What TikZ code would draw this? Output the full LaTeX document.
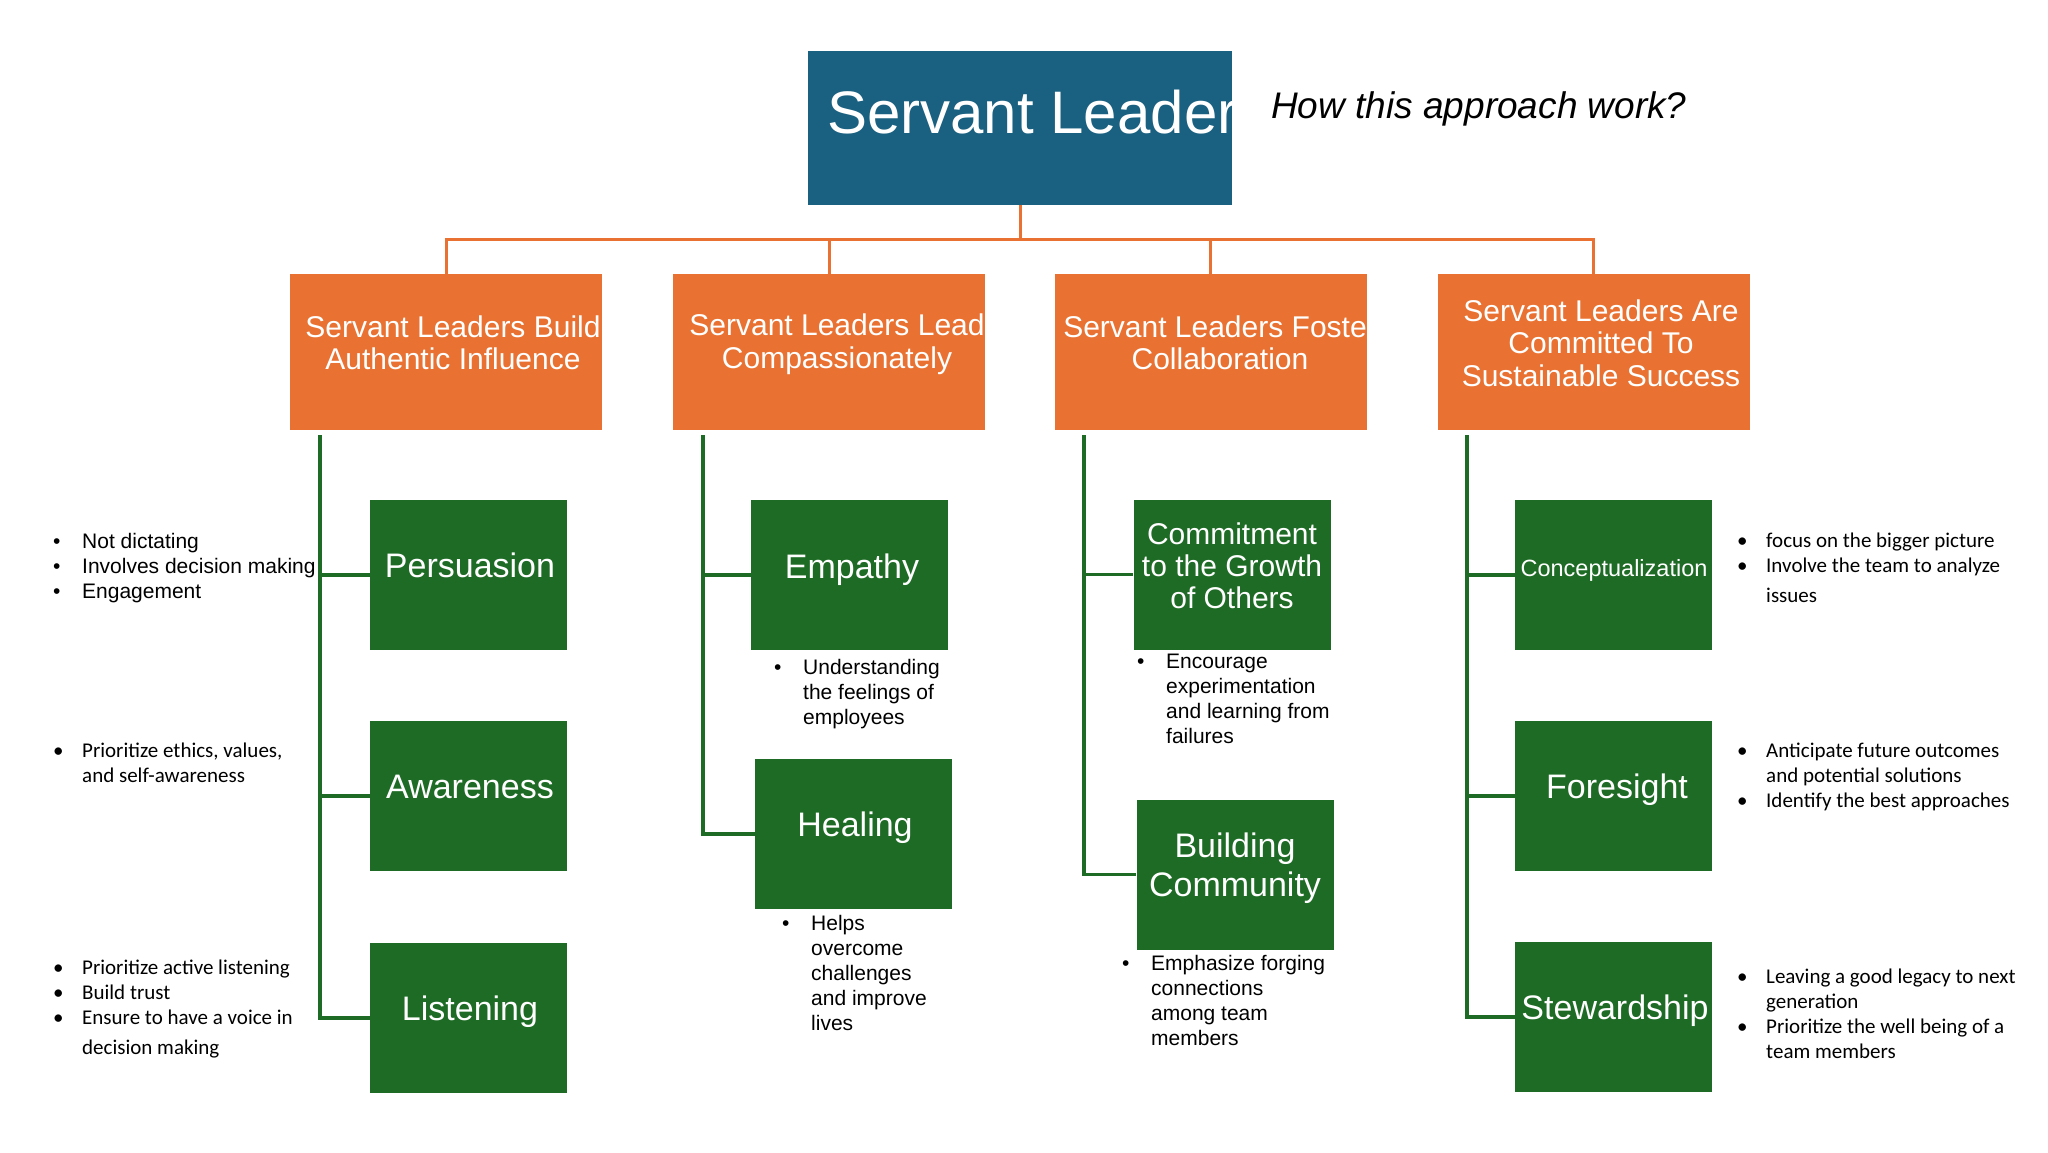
\documentclass[tikz,border=0pt]{standalone}
\usepackage{fontspec}
\setmainfont{Liberation Sans}
\newfontfamily\calfont{Carlito}
\usetikzlibrary{calc}
\definecolor{tealbox}{RGB}{26,96,128}
\definecolor{orangebox}{RGB}{233,114,50}
\definecolor{greenbox}{RGB}{30,107,38}
\newcommand\myb{\makebox[29pt][l]{\textbullet}}
\newcommand\myc{\hspace*{29pt}}
\begin{document}
\begin{tikzpicture}[x=1pt,y=-1pt,
 topbox/.style={fill=tealbox, minimum width=424pt, minimum height=154pt, inner sep=0pt},
 obox/.style={fill=orangebox, minimum width=312pt, minimum height=156pt, inner sep=0pt},
 gbox/.style={fill=greenbox, minimum width=197pt, minimum height=150pt, inner sep=0pt},
 otext/.style={text=white, align=center, inner sep=0pt, font=\fontsize{30}{32.5}\selectfont},
 gtext/.style={text=white, align=center, inner sep=0pt, font=\fontsize{34}{39}\selectfont},
 gone/.style={gtext, text height=24.5pt, text depth=0pt},
 ntext/.style={anchor=north west, align=left, inner sep=0pt, font=\fontsize{21}{25}\selectfont},
 ctext/.style={anchor=north west, align=left, inner sep=0pt, font=\calfont\fontsize{21}{25}\selectfont},
 oline/.style={draw=orangebox, line width=3pt},
 gline/.style={draw=greenbox, line width=3.5pt},
]
\useasboundingbox (0,0) rectangle (2048,1152);
\fill[white] (0,0) rectangle (2048,1152);

% top
\node[topbox] (top) at (1020,128) {};
\begin{scope}
\clip (top.north west) rectangle (top.south east);
\node[anchor=base west, text=white, inner sep=0pt, font=\fontsize{60}{60}\selectfont] (toptext) at (827,133) {Servant Leader};
\end{scope}
\node[anchor=base west, inner sep=0pt, font=\itshape\fontsize{37}{40}\selectfont] (howtext) at (1271,118) {How this approach work?};

% orange boxes
\node[obox] (o1) at (446,352) {};
\node[otext] (o1t) at (453,343) {Servant Leaders Build\\Authentic Influence};
\node[obox] (o2) at (829,352) {};
\node[otext] (o2t) at (837,344) {Servant Leaders Lead\\Compassionately};
\node[obox] (o3) at (1210.5,352) {};
\begin{scope}
\clip (o3.north west) rectangle (o3.south east);
\node[otext] (o3t) at (1220,343) {Servant Leaders Foster\\Collaboration};
\end{scope}
\node[obox] (o4) at (1593.5,352) {};
\node[otext] (o4t) at (1601,343) {Servant Leaders Are\\Committed To\\Sustainable Success};

% orange connectors
\coordinate (bus) at (1020,239);
\draw[oline] (o1.north) -- (o1.north |- bus) -- (o4.north |- bus) -- (o4.north);
\draw[oline] (top.south) -- (top.south |- bus);
\draw[oline] (o2.north) -- (o2.north |- bus);
\draw[oline] (o3.north) -- (o3.north |- bus);

% green boxes
\node[gbox] (persuasion) at (468.5,575) {};
\node[gbox] (awareness) at (468.5,796) {};
\node[gbox] (listening) at (468.5,1018) {};
\node[gbox] (empathy) at (849.5,575) {};
\node[gbox] (healing) at (853.5,834) {};
\node[gbox] (commit) at (1232,574.5) {};
\node[gbox] (building) at (1235,874.5) {};
\node[gbox] (concept) at (1613.5,575) {};
\node[gbox] (foresight) at (1613.5,796) {};
\node[gbox] (steward) at (1613.5,1017) {};

\node[gone] (persuasionT) at (470,565) {Persuasion};
\node[gone] (awarenessT) at (470,786) {Awareness};
\node[gone] (listeningT) at (470,1008) {Listening};
\node[gone] (empathyT) at (852,566) {Empathy};
\node[gone] (healingT) at (855,824) {Healing};
\node[gtext, font=\fontsize{30}{32}\selectfont] (commitT) at (1232,566) {Commitment\\to the Growth\\of Others};
\node[gtext] (buildingT) at (1235,868) {Building\\Community};
\node[gone, font=\fontsize{23.5}{26}\selectfont, text height=17pt] (conceptT) at (1614,568) {Conceptualization};
\node[gone] (foresightT) at (1617,786) {Foresight};
\node[gone] (stewardT) at (1615,1007) {Stewardship};

% green connectors
\coordinate (c1) at (320,435);
\draw[gline] (c1) |- (listening.west);
\draw[gline] (c1 |- persuasion.west) -- (persuasion.west);
\draw[gline] (c1 |- awareness.west) -- (awareness.west);
\coordinate (c2) at (703,435);
\draw[gline] (c2) |- (healing.west);
\draw[gline] (c2 |- empathy.west) -- (empathy.west);
\coordinate (c3) at (1084,435);
\draw[gline] (c3) |- (building.west);
\draw[gline] (c3 |- commit.west) -- (commit.west);
\coordinate (c4) at (1467,435);
\draw[gline] (c4) |- (steward.west);
\draw[gline] (c4 |- concept.west) -- (concept.west);
\draw[gline] (c4 |- foresight.west) -- (foresight.west);

% bullet texts
\node[ntext] (l1) at (53,533) {\myb Not dictating\\\myb Involves decision making\\\myb Engagement};
\node[ctext] (l2) at (53,743) {\myb Prioritize ethics, values,\\\myc and self-awareness};
\node[ctext] (l3) at (53,960) {\myb Prioritize active listening\\\myb Build trust\\\myb Ensure to have a voice in\\[5pt]\myc decision making};
\node[ntext] (e1) at (774,659) {\myb Understanding\\\myc the feelings of\\\myc employees};
\node[ntext] (h1) at (782,915) {\myb Helps\\\myc overcome\\\myc challenges\\\myc and improve\\\myc lives};
\node[ntext] (m1) at (1137,654) {\myb Encourage\\\myc experimentation\\\myc and learning from\\\myc failures};
\node[ntext] (f1) at (1122,955) {\myb Emphasize forging\\\myc connections\\\myc among team\\\myc members};
\node[ctext] (r1) at (1737,533) {\myb focus on the bigger picture\\\myb Involve the team to analyze\\[5pt]\myc issues};
\node[ctext] (r2) at (1737,743) {\myb Anticipate future outcomes\\\myc and potential solutions\\\myb Identify the best approaches};
\node[ctext] (r3) at (1737,969) {\myb Leaving a good legacy to next\\\myc generation\\\myb Prioritize the well being of a\\\myc team members};
\end{tikzpicture}
\end{document}
